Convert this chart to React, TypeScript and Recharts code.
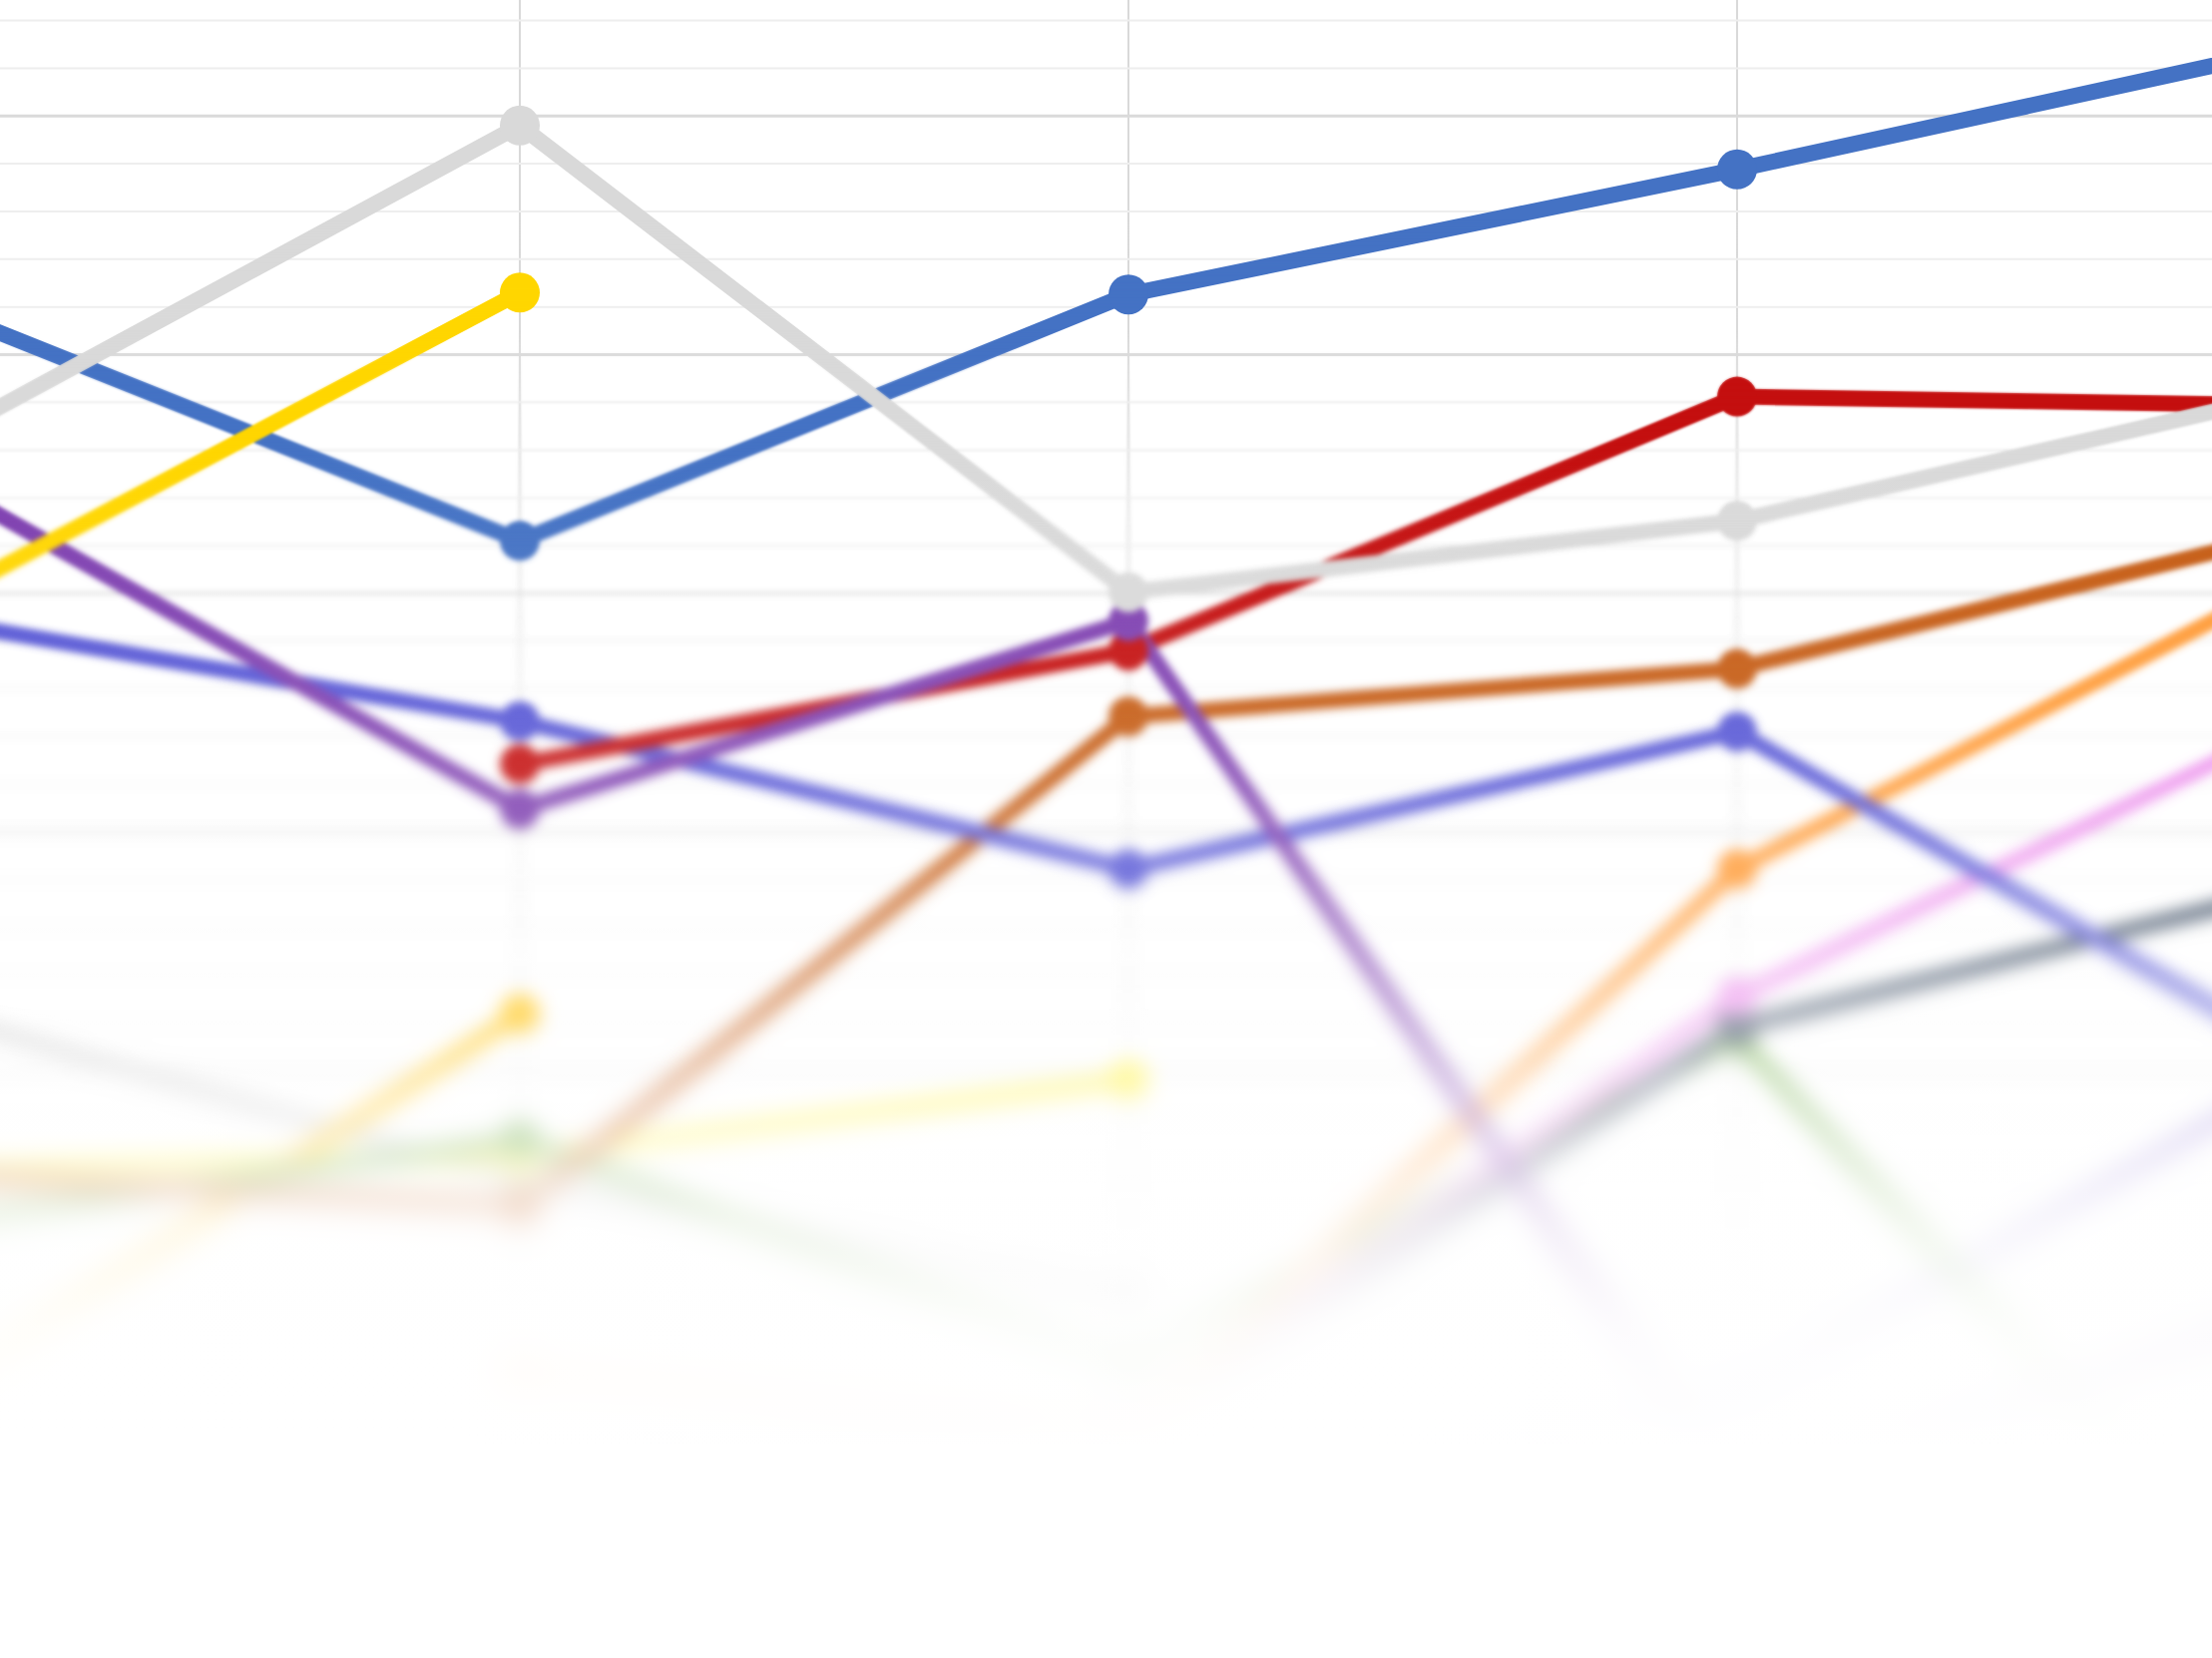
import React from 'react';
import { LineChart, Line, XAxis, YAxis, CartesianGrid, ReferenceLine } from 'recharts';

const categories = ['2019', '2020', '2021', '2022', '2023'];

// series values per category (null = no point)
const blue = [181.0, 155.5, 181.3, 194.4, 208.3];
const silver = [164.5, 199.0, 150.1, 157.6, 172.2];
const yellow = [147.7, 181.5, null, null, null];
const red = [null, 132.1, 144.0, 170.6, 169.6];
const purple = [163.4, 127.4, 147.1, 55.4, 76.3];
const periwinkle = [147.6, 136.6, 121.1, 135.5, 98.7];
const brown = [88.9, 85.6, 137.1, 142.1, 157.7];
const apricot = [null, 67.9, 61.4, 121.1, 154.4];
const pink = [null, null, 63.0, 107.7, 139.0];
const slate = [null, 57.5, 62.6, 104.5, 120.4];
const green = [83.6, 92.6, 69.0, 103.5, 34.5];
const gold = [64.5, 105.9, null, null, null];
const lemon = [89.4, 90.9, 99.0, null, null];
const ash = [106.6, 88.3, 76.3, null, null];
const lavender = [null, null, 50.0, 65.8, 102.4];

const minorTicks = Array.from({ length: 41 }, (_, i) => 25 + i * 5);
const majorTicks = [50, 75, 100, 125, 150, 175, 200, 225];

// drawing order: bottom first
const series = [
  { key: 'lavender', color: '#A996E0', values: lavender },
  { key: 'ash', color: '#D2D2D2', values: ash },
  { key: 'lemon', color: '#FFF23A', values: lemon },
  { key: 'gold', color: '#FFC000', values: gold },
  { key: 'green', color: '#70AD47', values: green },
  { key: 'slate', color: '#44546A', values: slate },
  { key: 'pink', color: '#EE99EE', values: pink },
  { key: 'apricot', color: '#FF9A35', values: apricot },
  { key: 'brown', color: '#C55A11', values: brown },
  { key: 'periwinkle', color: '#5555D5', values: periwinkle },
  { key: 'red', color: '#C40F0F', values: red },
  { key: 'purple', color: '#7E3FB0', values: purple },
  { key: 'blue', color: '#4472C4', values: blue },
  { key: 'yellow', color: '#FFD600', values: yellow },
  { key: 'silver', color: '#D9D9D9', values: silver },
];

const data = categories.map((cat, i) => {
  const row: any = { cat };
  series.forEach(s => { row[s.key] = s.values[i]; });
  return row;
});

const LAYER_TOP = -123;
const LAYER_LEFT = -129;
const CHART_W = 2520;
const CHART_H = 1914;

// depth of field: blur grows towards the bottom
const blurLayers = [
  { from: 220, blur: 0.6 },
  { from: 330, blur: 1.2 },
  { from: 430, blur: 2 },
  { from: 520, blur: 3 },
  { from: 610, blur: 4.2 },
  { from: 700, blur: 5.6 },
  { from: 790, blur: 7.2 },
  { from: 880, blur: 9 },
  { from: 970, blur: 11 },
  { from: 1060, blur: 13.5 },
  { from: 1160, blur: 16.5 },
  { from: 1270, blur: 20 },
];

const Chart = () => (
  <LineChart width={CHART_W} height={CHART_H} data={data} margin={{ top: 0, right: 40, bottom: 0, left: 40 }}>
    <CartesianGrid horizontal={false} stroke="#D9D9D9" strokeWidth={2} />
    <CartesianGrid vertical={false} stroke="#EEEEEE" strokeWidth={2} />
    <XAxis dataKey="cat" hide />
    <YAxis hide type="number" domain={[25, 225]} ticks={minorTicks} allowDataOverflow />
    {majorTicks.map(t => (
      <ReferenceLine key={t} y={t} stroke="#DADADA" strokeWidth={3} />
    ))}
    {series.map(s => (
      <Line
        key={s.key}
        type="linear"
        dataKey={s.key}
        stroke={s.color}
        strokeWidth={16}
        dot={{ r: 20, fill: s.color, stroke: s.color, strokeWidth: 0 }}
        activeDot={false}
        isAnimationActive={false}
      />
    ))}
  </LineChart>
);

const layerBase: React.CSSProperties = {
  position: 'absolute',
  left: LAYER_LEFT,
  top: LAYER_TOP,
  width: CHART_W,
  height: CHART_H,
  background: '#fff',
};

export default function App() {
  return (
    <div style={{ position: 'fixed', left: 0, top: 0, width: 2217, height: 1662, overflow: 'hidden', background: '#fff' }}>
      <div style={layerBase}>
        <Chart />
      </div>
      {blurLayers.map(l => {
        const a = l.from - LAYER_TOP;
        const mask = `linear-gradient(to bottom, transparent ${a}px, black ${a + 100}px)`;
        return (
          <div
            key={l.from}
            style={{ ...layerBase, filter: `blur(${l.blur}px)`, maskImage: mask, WebkitMaskImage: mask }}
          >
            <Chart />
          </div>
        );
      })}
      <div
        style={{
          position: 'absolute',
          inset: 0,
          background:
            'linear-gradient(to bottom, rgba(255,255,255,0) 450px, rgba(255,255,255,0.1) 700px, rgba(255,255,255,0.2) 870px, rgba(255,255,255,0.38) 1000px, rgba(255,255,255,0.62) 1130px, rgba(255,255,255,0.82) 1230px, rgba(255,255,255,0.94) 1330px, #fff 1450px)',
        }}
      />
    </div>
  );
}
